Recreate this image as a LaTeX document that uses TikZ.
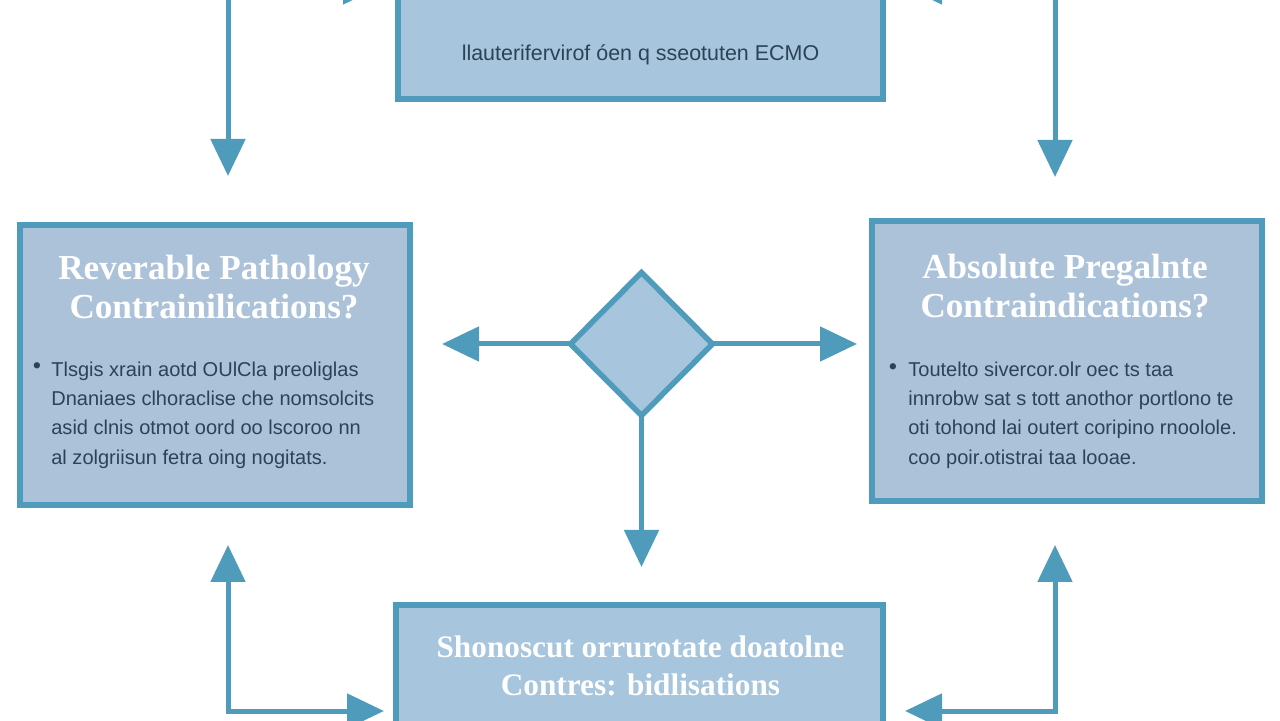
\documentclass[tikz,border=0pt]{standalone}
\usepackage{fontspec}
\setmainfont{Liberation Serif}
\setsansfont{Liberation Sans}
\usetikzlibrary{arrows.meta, shapes.geometric}
\definecolor{edgeblue}{HTML}{4F9BBB}
\definecolor{sidefill}{HTML}{ACC2D9}
\definecolor{midfill}{HTML}{A7C5DC}
\definecolor{bodyink}{HTML}{2C4258}
\tikzset{>={Triangle[length=0.74cm, width=0.68cm]}}
\tikzset{
    flowline/.style = {line width=0.1cm, edgeblue},
    sidebox/.style = {draw=edgeblue, line width=0.12cm, fill=sidefill, minimum width=7.8cm, minimum height=5.6cm},
    midbox/.style = {draw=edgeblue, line width=0.12cm, fill=midfill, minimum height=3cm},
    titletext/.style = {white, align=center, font=\fontsize{20}{22.2}\selectfont\bfseries},
    bodytext/.style = {bodyink, align=left, anchor=west, inner sep=0pt, font=\fontsize{11.4}{16.7}\selectfont\sffamily},
    dotmark/.style = {bodyink, inner sep=0pt, font=\fontsize{15}{15}\selectfont}
}
\begin{document}
\begin{tikzpicture}
    \useasboundingbox (0,0) rectangle (25.6,14.4);
    \node [sidebox] (pathology) at (4.30,7.10) {};
    \node [sidebox] (absolute) at (21.34,7.18) {};
    \node [midbox, minimum width=9.7cm, anchor=south] (ecmo) at (12.81,12.36) {};
    \node [midbox, minimum width=9.74cm, anchor=north] (relative) at (12.79,2.36) {};
    \coordinate (pathologytip) at (4.56,10.88);
    \coordinate (ecmoleft) at (7.60,14.66);
    \coordinate (absolutetip) at (21.10,10.86);
    \coordinate (ecmoright) at (18.10,14.66);
    \coordinate (pathologylow) at (4.56,3.50);
    \coordinate (relativeleft) at (7.68,0.18);
    \coordinate (absolutelow) at (21.10,3.50);
    \coordinate (relativeright) at (18.10,0.18);
    \coordinate (decisionleft) at (8.84,7.52);
    \coordinate (decisionright) at (17.14,7.52);
    \coordinate (decisionlow) at (12.83,3.06);
    \node [diamond, draw=edgeblue, line width=0.11cm, fill=midfill, minimum width=2.84cm, minimum height=2.86cm, inner sep=0pt, outer sep=0pt] (decision) at (12.83,7.52) {};
    \draw [<->, flowline] (pathologytip) |- (ecmoleft);
    \draw [<->, flowline] (absolutetip) |- (ecmoright);
    \draw [<->, flowline] (pathologylow) |- (relativeleft);
    \draw [<->, flowline] (absolutelow) |- (relativeright);
    \draw [->, flowline] (decision.west) -- (decisionleft);
    \draw [->, flowline] (decision.east) -- (decisionright);
    \draw [->, flowline] (decision.south) -- (decisionlow);
    \node [titletext] (pathologytitle) at (4.28,8.66) {Reverable Pathology\\Contrainilications?};
    \node [titletext] (absolutetitle) at (21.30,8.68) {Absolute Pregalnte\\Contraindications?};
    \node [titletext, font=\fontsize{17.8}{21.8}\selectfont\bfseries] (relativetitle) at (12.81,1.08) {Shonoscut orrurotate doatolne\\Contres: bidlisations};
    \node [dotmark] (pathologydot) at (0.74,7.02) {\textbullet};
    \node [bodytext] (pathologybody) at (1.02,6.10) {Tlsgis xrain aotd OUlCla preoliglas\\Dnaniaes clhoraclise che nomsolcits\\asid clnis otmot oord oo lscoroo nn\\al zolgriisun fetra oing nogitats.};
    \node [dotmark] (absolutedot) at (17.86,7.00) {\textbullet};
    \node [bodytext] (absolutebody) at (18.16,6.10) {Toutelto sivercor.olr oec ts taa\\innrobw sat s tott anothor portlono te\\oti tohond lai outert coripino rnoolole.\\coo poir.otistrai taa looae.};
    \node [bodytext, anchor=center, font=\fontsize{12.2}{14}\selectfont\sffamily] (ecmotext) at (12.81,13.30) {llauterifervirof óen q sseotuten ECMO};
\end{tikzpicture}
\end{document}
